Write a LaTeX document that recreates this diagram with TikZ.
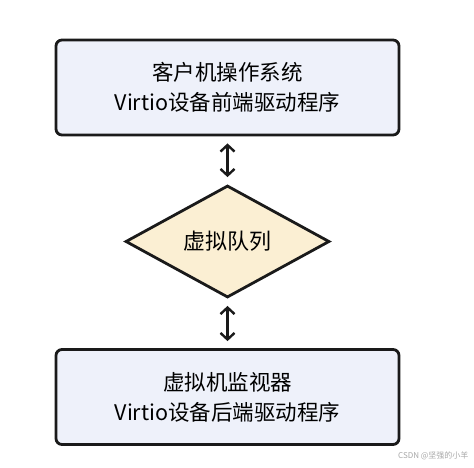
\documentclass[tikz,border=0pt]{standalone}
\usepackage{fontspec}
\setmainfont{Noto Sans CJK SC}
\usetikzlibrary{shapes.geometric,arrows.meta,positioning}
\definecolor{boxfill}{HTML}{EEF1FA}
\definecolor{queuefill}{HTML}{FBEFD3}
\definecolor{edgecol}{HTML}{1A1A1A}
\begin{document}
\begin{tikzpicture}[node distance=154pt,auto,
    layer/.style={draw=edgecol, fill=boxfill, line width=2.8pt, rectangle, rounded corners=6pt,
        minimum width=343pt, minimum height=95pt, align=center, font=\fontsize{21.5}{30}\selectfont},
    queue/.style={draw=edgecol, fill=queuefill, line width=2.8pt, diamond, inner sep=0pt,
        minimum width=204pt, minimum height=112pt, font=\fontsize{22}{26}\selectfont},
    link/.style={{Straight Barb[length=6.5pt,width=14pt]}-{Straight Barb[length=6.5pt,width=14pt]},
        line width=2.4pt, draw=edgecol, shorten >=7pt, shorten <=7pt}]
    \useasboundingbox (0,0) rectangle (474pt,-467pt);
    % Nodes
    \node [layer] (guest) at (227.5pt,-87.5pt) {客户机操作系统\\Virtio设备前端驱动程序};
    \node [queue, below of=guest] (vq) {虚拟队列};
    \node [layer, below of=vq, node distance=155.5pt] (host) {虚拟机监视器\\Virtio设备后端驱动程序};
    \node [anchor=east, text=black!35, font=\fontsize{8}{9}\selectfont] (mark) at (472pt,-456pt) {CSDN @坚强的小羊};

    % Arrows
    \draw [link] (guest) -- (vq);
    \draw [link] (vq) -- (host);
\end{tikzpicture}
\end{document}
